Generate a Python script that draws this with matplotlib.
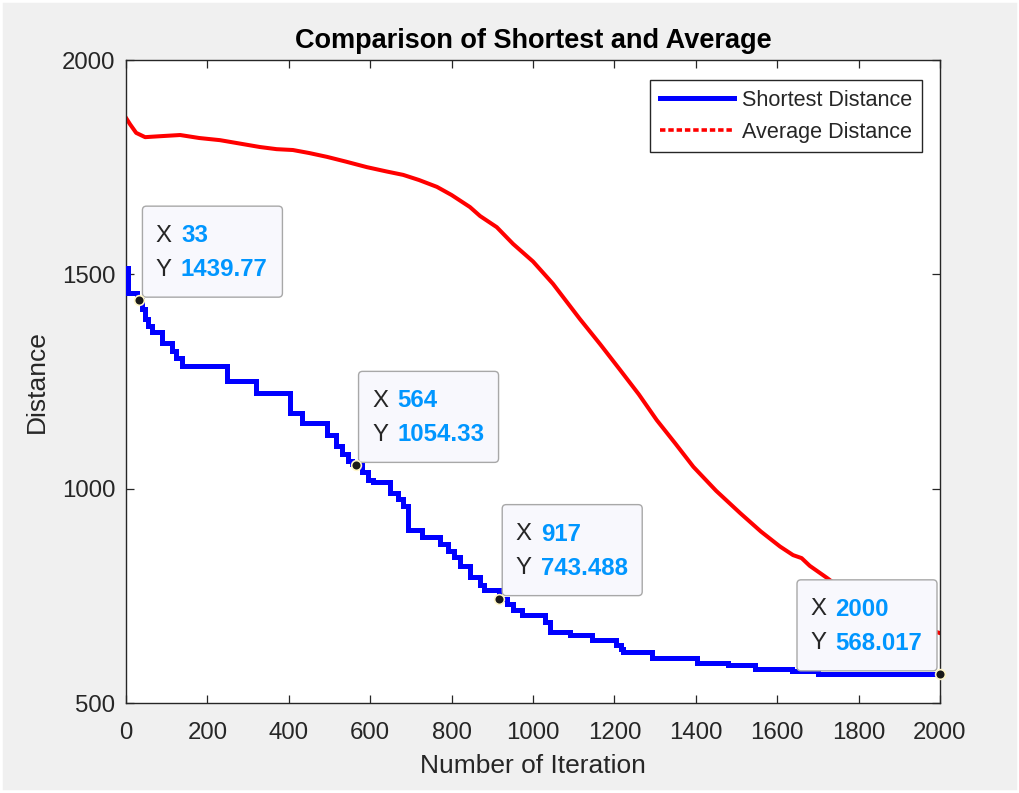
import matplotlib
matplotlib.use("Agg")
import matplotlib.pyplot as plt
from matplotlib.transforms import ScaledTranslation
from matplotlib.patches import FancyBboxPatch, Rectangle
from matplotlib.lines import Line2D

plt.rcParams['font.family'] = ['Liberation Sans', 'DejaVu Sans']

# ---- data ----
shortest_x = [0, 4, 28, 40, 47, 55, 64, 88, 113, 122, 138, 248, 320, 403, 432,
              495, 515, 530, 545, 555, 564, 580, 595, 607, 648, 668, 680, 693,
              727, 772, 790, 805, 821, 845, 870, 880, 917, 936, 950, 973, 1030,
              1042, 1091, 1145, 1205, 1215, 1221, 1292, 1403, 1479, 1545, 1636,
              1700, 2000]
shortest_y = [1515, 1456, 1439.77, 1420, 1395, 1380, 1365, 1340, 1320, 1305, 1286,
              1251, 1223, 1176, 1153, 1125, 1100, 1080, 1065, 1058, 1054.33, 1040,
              1020, 1016, 990, 975, 960, 903, 887, 870, 855, 840, 819, 794, 775,
              763, 743.488, 730, 717, 705, 690, 666, 659, 647, 635, 625, 619, 605,
              593, 588, 580, 575, 568.017, 568.017]

average_x = [0, 10, 25, 47, 80, 133, 180, 231, 280, 329, 370, 410, 450, 494, 540,
             592, 640, 681, 720, 764, 800, 845, 870, 911, 951, 1000, 1049, 1115,
             1165, 1214, 1260, 1304, 1350, 1394, 1450, 1509, 1560, 1607, 1639,
             1660, 1680, 1722, 1760, 1800, 1850, 1900, 1950, 2000]
average_y = [1865, 1850, 1830, 1820, 1822, 1825, 1818, 1813, 1805, 1797, 1792,
             1790, 1783, 1774, 1763, 1750, 1740, 1732, 1720, 1704, 1685, 1657,
             1636, 1610, 1571, 1530, 1478, 1396, 1337, 1277, 1220, 1160, 1105,
             1051, 995, 943, 900, 865, 845, 838, 820, 792, 765, 740, 715, 695,
             678, 663]

tip_x = [33, 564, 917, 2000]
tip_y = [1439.77, 1054.33, 743.488, 568.017]
tip_xlabel = ['33', '564', '917', '2000']
tip_ylabel = ['1439.77', '1054.33', '743.488', '568.017']
tip_side = ['right', 'right', 'right', 'left']

xticks = list(range(0, 2001, 200))
yticks = [500, 1000, 1500, 2000]

title = 'Comparison of Shortest and Average'
xlabel = 'Number of Iteration'
ylabel = 'Distance'
legend_labels = ['Shortest Distance', 'Average Distance']

# ---- styling ----
DARK = '#262626'
TIPBLUE = '#0096ff'

fig = plt.figure(figsize=(10.2, 7.93), dpi=100, facecolor='#f0f0f0')
ax = fig.add_axes([126/1020, 1 - 703/793, 814/1020, 643/793])
ax.set_facecolor('white')

ax.plot(shortest_x, shortest_y, color='#0000ff', lw=3.6, drawstyle='steps-post',
        solid_joinstyle='miter', zorder=3)
ax.plot(average_x, average_y, color='#ff0000', lw=2.9, zorder=2)

ax.set_xlim(0, 2000)
ax.set_ylim(500, 2000)
ax.set_xticks(xticks)
ax.set_yticks(yticks)
ax.tick_params(direction='in', length=5.5, width=0.9, top=True, right=True,
               colors=DARK, labelsize=17.3)
ax.tick_params(axis='x', pad=13.5)
ax.tick_params(axis='y', pad=7.6)
for s in ax.spines.values():
    s.set_color(DARK)
    s.set_linewidth(1.0)

ax.set_title(title, fontsize=19.5, fontweight='bold', color='black', pad=9)
ax.set_xlabel(xlabel, fontsize=19, color=DARK)
ax.set_ylabel(ylabel, fontsize=19, color=DARK)
ax.xaxis.set_label_coords(0.5, (703 - 766) / 643)
ax.xaxis.label.set_va('center')
ax.yaxis.set_label_coords((37 - 126) / 814, 0.5)
ax.yaxis.label.set_va('center')

handles = [Line2D([], [], color='#0000ff', lw=3.6),
           Line2D([], [], color='#ff0000', lw=2.6, linestyle=(0, (1.5, 0.8)))]
leg = ax.legend(handles, legend_labels, loc='upper right',
                bbox_to_anchor=((922 - 126) / 814, (703 - 80) / 643),
                borderaxespad=0, fontsize=15.6, handlelength=3.45,
                handletextpad=0.35, borderpad=0.45, labelspacing=0.5,
                fancybox=False, framealpha=1, edgecolor=DARK)
leg.get_frame().set_linewidth(1.0)
for t in leg.get_texts():
    t.set_color(DARK)
leg.set_zorder(10)

# ---- data tips ----
W, H, R = 140, 91, 4
for x, y, lx, ly, side in zip(tip_x, tip_y, tip_xlabel, tip_ylabel, tip_side):
    tr = ScaledTranslation(x, y, ax.transData)
    bx0 = 3 if side == 'right' else -143
    by0 = 3
    box = FancyBboxPatch((bx0 + R, by0 + R), W - 2 * R, H - 2 * R,
                         boxstyle=f'round,pad={R},rounding_size={R}',
                         transform=tr, facecolor='#f8f8fd', edgecolor='#a8a8a8',
                         lw=1.0, zorder=6, clip_on=False)
    ax.add_artist(box)
    for dy, lab, val in [(H - 29.5, 'X', lx), (H - 63.5, 'Y', ly)]:
        ax.text(bx0 + 13.5, by0 + dy, lab, transform=tr, ha='left', va='center',
                fontsize=17.3, color=DARK, zorder=7, clip_on=False)
        ax.text(bx0 + 38.5, by0 + dy, val, transform=tr, ha='left', va='center',
                fontsize=17.3, fontweight='bold', color=TIPBLUE, zorder=7,
                clip_on=False)
ax.plot(tip_x, tip_y, 'o', ms=7, mfc='#1a1a1a', mec='#fff6c8', mew=1.2,
        zorder=8, clip_on=False)

# thin white outer border like the screenshot
fig.patches.append(Rectangle((0, 0), 1, 1, transform=fig.transFigure,
                             facecolor='none', edgecolor='white', lw=4,
                             zorder=20))

fig.savefig('out.png', dpi=100, facecolor=fig.get_facecolor())
